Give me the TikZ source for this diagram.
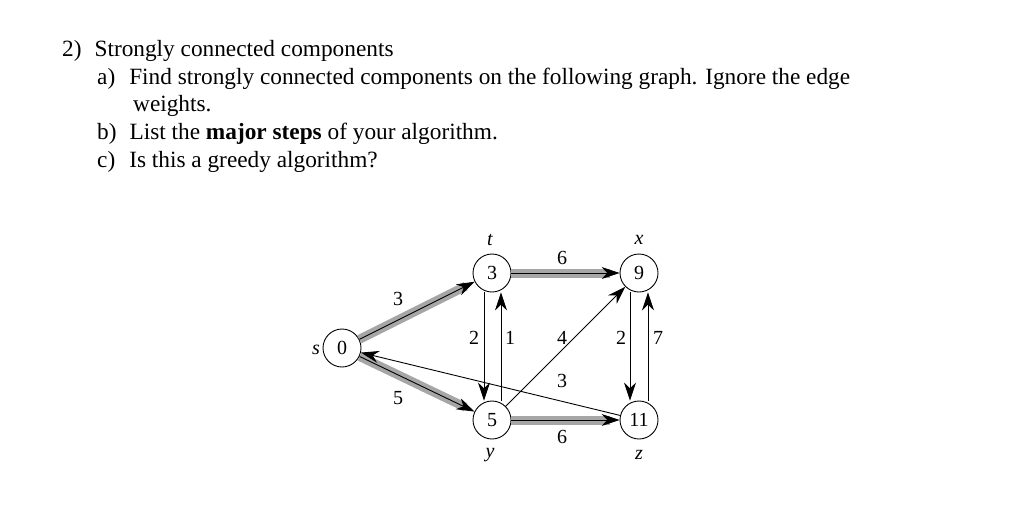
\documentclass[tikz,border=0pt]{standalone}
\usepackage{fontspec}
\setmainfont{Liberation Serif}
\usetikzlibrary{arrows.meta}
\begin{document}
\begin{tikzpicture}[x=1pt,y=-1pt,
  vtx/.style={circle,draw,line width=0.9pt,minimum size=38pt,inner sep=0pt,font=\fontsize{20}{20}\selectfont},
  lab/.style={font=\fontsize{20}{20}\selectfont\itshape},
  wt/.style={font=\fontsize{20}{20}\selectfont},
  txt/.style={anchor=base west,inner sep=0pt,font=\fontsize{23.3}{23.3}\selectfont},
  arr/.style={line width=0.9pt,-{Stealth[length=18pt,width=12pt]}},
  hl/.style={line width=9pt,gray!70,shorten >=10pt}]
\useasboundingbox (0,0) rectangle (1024,509);
\node[txt] (l1) at (62,56) {2)\hspace{13pt}Strongly connected components};
\node[txt] (l2) at (97,84) {a)\hspace{14pt}Find strongly connected components on the following graph. Ignore the edge};
\node[txt] (l3) at (133,111) {weights.};
\node[txt] (l4) at (97,139) {b)\hspace{13pt}List the \textbf{major steps} of your algorithm.};
\node[txt] (l5) at (97,167) {c)\hspace{14pt}Is this a greedy algorithm?};
\node[vtx] (s) at (342,348) {0};
\node[vtx] (t) at (492,273) {3};
\node[vtx] (x) at (639,273) {9};
\node[vtx] (y) at (492,420) {5};
\node[vtx] (z) at (639,420) {11};
\node[lab] (ls) at (316,350) {s};
\node[lab] (lt) at (490,240) {t};
\node[lab] (lx) at (639,240) {x};
\node[lab] (ly) at (490,455) {y};
\node[lab] (lz) at (639,455) {z};
\draw[hl] (s) -- (t); \draw[hl] (s) -- (y); \draw[hl] (t) -- (x); \draw[hl] (y) -- (z);
\draw[arr] (s) -- (t); \draw[arr] (s) -- (y); \draw[arr] (t) -- (x); \draw[arr] (y) -- (z);
\draw[arr] ([xshift=-8pt]t.south) -- ([xshift=-8pt]y.north);
\draw[arr] ([xshift=9pt]y.north) -- ([xshift=9pt]t.south);
\draw[arr] ([xshift=-9pt]x.south) -- ([xshift=-9pt]z.north);
\draw[arr] ([xshift=9pt]z.north) -- ([xshift=9pt]x.south);
\draw[arr] (y) -- (x);
\draw[arr] (z) -- (s);
\node[wt] at (398,299) {3};
\node[wt] at (398,398) {5};
\node[wt] at (562,258) {6};
\node[wt] at (562,437) {6};
\node[wt] at (474,338) {2};
\node[wt] at (510,338) {1};
\node[wt] at (562,338) {4};
\node[wt] at (562,381) {3};
\node[wt] at (621,338) {2};
\node[wt] at (658,338) {7};
\end{tikzpicture}
\end{document}
